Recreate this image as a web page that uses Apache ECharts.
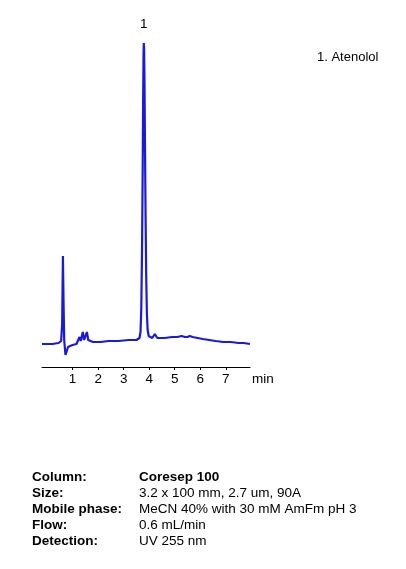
<!DOCTYPE html>
<html>
<head>
<meta charset="utf-8">
<script src="https://cdn.jsdelivr.net/npm/echarts@6/dist/echarts.min.js"></script>
<style>
html,body{margin:0;padding:0;background:#fff;}
#chart{width:406px;height:569px;}
</style>
</head>
<body>
<div id="chart"></div>
<script>
// Retention times (min) and detector signal (arbitrary units, baseline = 0)
const times = [-0.2, 0.2, 0.45, 0.55, 0.59, 0.62, 0.645, 0.67, 0.72, 0.76, 0.82, 0.9, 1.0, 1.15, 1.22, 1.27, 1.32, 1.36, 1.40, 1.45, 1.50, 1.56, 1.61, 1.68, 1.8, 2.1, 2.4, 2.8, 3.2, 3.5, 3.55,
  3.62, 3.66, 3.69, 3.72, 3.745, 3.765, 3.78, 3.79, 3.80, 3.815, 3.835, 3.86, 3.885, 3.91, 3.94, 3.98, 4.03, 4.12, 4.18, 4.22, 4.26, 4.32,
  4.6, 4.9, 5.1, 5.27, 5.4, 5.5, 5.59, 5.7, 5.9, 6.1, 6.35, 6.6, 6.9, 7.2, 7.5, 7.7, 7.95];
const signal = [0, 0, 1, 3, 20, 88, 40, 4, -11, -8, -3, -2, -1, 0, 2, 7, 3, 4, 12, 4, 4, 12, 4, 2, 2, 2, 3, 3, 4, 4, 4,
  6, 12, 35, 95, 175, 250, 293, 301, 296, 265, 200, 125, 65, 30, 14, 8, 6, 6, 8, 10, 8, 6,
  6, 7, 7, 8, 7, 7, 8, 7, 6, 5, 4, 3, 2, 2, 1, 1, 0];
const tickValues = [1, 2, 3, 4, 5, 6, 7];
const peakLabels = [{ name: '1', time: 3.79, value: 301 }];
const legendText = '1. Atenolol';
const infoLabels = ['Column:', 'Size:', 'Mobile phase:', 'Flow:', 'Detection:'];
const infoValues = ['Coresep 100', '3.2 x 100 mm, 2.7 um, 90A', 'MeCN 40% with 30 mM AmFm pH 3', '0.6 mL/min', 'UV 255 nm'];

const FONT = '"Liberation Sans", Arial, sans-serif';
const chart = echarts.init(document.getElementById('chart'), null, { renderer: 'canvas' });

const graphics = [{
  type: 'text', x: 317, y: 57,
  style: { text: legendText, font: '13px ' + FONT, fill: '#000', verticalAlign: 'middle' }
}];
infoLabels.forEach((l, i) => {
  const cy = 477 + i * 16;
  graphics.push({
    type: 'text', x: 32, y: cy,
    style: { text: l, font: 'bold 13.5px ' + FONT, fill: '#000', verticalAlign: 'middle' }
  });
  graphics.push({
    type: 'text', x: 139, y: cy,
    style: { text: infoValues[i], font: (i === 0 ? 'bold ' : '') + '13.5px ' + FONT, fill: '#000', verticalAlign: 'middle' }
  });
});

chart.setOption({
  animation: false,
  backgroundColor: '#fff',
  grid: { left: 42, top: 40, width: 208, height: 327 },
  xAxis: {
    type: 'value', min: -0.2, max: 7.95,
    name: 'min', nameLocation: 'end', nameGap: 2,
    nameTextStyle: { color: '#000', fontFamily: FONT, fontSize: 13.5, verticalAlign: 'top', padding: [5, 0, 0, 0] },
    axisLine: { show: true, onZero: false, lineStyle: { color: '#000', width: 1 } },
    axisTick: { show: true, length: 3, customValues: tickValues, lineStyle: { color: '#000' } },
    axisLabel: { customValues: tickValues, color: '#000', fontFamily: FONT, fontSize: 13.5, margin: 5 },
    splitLine: { show: false }
  },
  yAxis: {
    type: 'value', min: -23, max: 304, show: false,
    splitLine: { show: false }
  },
  series: [{
    type: 'line',
    data: times.map((t, i) => [t, signal[i]]),
    showSymbol: false, symbol: 'none',
    lineStyle: { color: '#1a1ad9', width: 2.2 },
    markPoint: {
      symbol: 'circle', symbolSize: 1,
      itemStyle: { color: 'rgba(0,0,0,0)' },
      label: { show: true, position: 'top', distance: 11, color: '#000', fontFamily: FONT, fontSize: 13.5, formatter: p => p.name },
      data: peakLabels.map(p => ({ name: p.name, coord: [p.time, p.value] }))
    }
  }],
  graphic: graphics
});
</script>
</body>
</html>
